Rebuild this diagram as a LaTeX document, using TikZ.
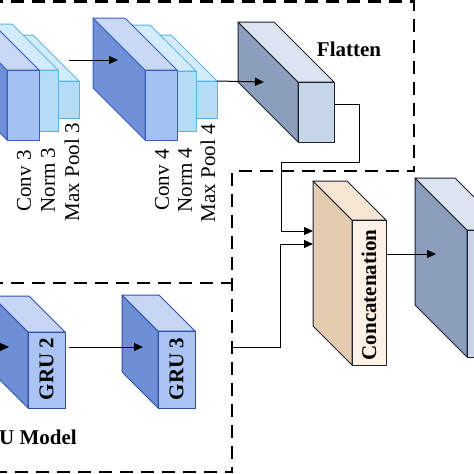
\documentclass[tikz,border=0pt]{standalone}
\usepackage{fontspec}
\setmainfont{Liberation Serif}
\usetikzlibrary{arrows.meta}
\definecolor{convF}{HTML}{A3C1F2}
\definecolor{convS}{HTML}{6F8FD6}
\definecolor{convT}{HTML}{C9D9F5}
\definecolor{convB}{HTML}{3A5FC0}
\definecolor{thinF}{HTML}{B3DDF6}
\definecolor{thinS}{HTML}{8CCBEF}
\definecolor{thinT}{HTML}{D4ECFA}
\definecolor{thinB}{HTML}{5CB4E4}
\definecolor{flatF}{HTML}{C7D5E8}
\definecolor{flatS}{HTML}{8B9FBC}
\definecolor{flatT}{HTML}{DCE4EF}
\definecolor{flatB}{HTML}{1E2230}
\definecolor{concF}{HTML}{FCF1E4}
\definecolor{concS}{HTML}{E5CBAF}
\definecolor{concT}{HTML}{F5E5D3}
\definecolor{concB}{HTML}{1E2230}
\definecolor{gruF}{HTML}{A9C3F2}
\definecolor{gruS}{HTML}{6E8ED6}
\definecolor{gruT}{HTML}{C6D6F4}
\definecolor{gruB}{HTML}{3050A8}
% #1 name, #2 x, #3 y (front top-left), #4 w, #5 h, #6 depth, #7 colour family
\newcommand{\blk}[7]{%
  \filldraw[draw=#7B, fill=#7S, line width=1pt, line join=round] (#2,#3) -- ++(-#6,-#6) -- ++(0,#5) -- ++(#6,#6) -- cycle;
  \filldraw[draw=#7B, fill=#7T, line width=1pt, line join=round] (#2,#3) -- ++(-#6,-#6) -- ++(#4,0) -- ++(#6,#6) -- cycle;
  \node[draw=#7B, fill=#7F, line width=1pt, minimum width=#4pt, minimum height=#5pt, anchor=north west, inner sep=0pt, outer sep=0pt] (#1) at (#2,#3) {};
}
\begin{document}
\begin{tikzpicture}[x=1pt,y=-1pt,
  arr/.style={-{Triangle[length=9pt,width=8pt]}, line width=1pt},
  dsh/.style={line width=2.8pt, dash pattern=on 13pt off 8pt},
  lbl/.style={rotate=90, font=\fontsize{21}{24}\selectfont, inner sep=0pt},
  blbl/.style={rotate=90, font=\bfseries\fontsize{21}{24}\selectfont, inner sep=0pt},
  ttl/.style={font=\bfseries\fontsize{21}{24}\selectfont, inner sep=0pt}]
\useasboundingbox (0,0) rectangle (474,474);
\clip (0,0) rectangle (474,474);

% dashed boxes
\draw[dsh] (-10,1.5) -- (414,1.5) -- (414,171) -- (232,171) -- (232,472) -- (-10,472);
\draw[dsh] (-10,283) -- (232,283);

% conv 3 group
\blk{pool3}{58}{81}{21}{37}{46}{thin}
\blk{norm3}{39}{70}{19}{61}{46}{thin}
\blk{conv3}{7}{70}{32}{70}{52}{conv}
% conv 4 group
\blk{pool4}{196}{81}{21}{37}{46}{thin}
\blk{norm4}{177}{71}{19}{60}{46}{thin}
\blk{conv4}{145}{70}{32}{70}{52}{conv}
\coordinate (c3out) at (69,60);
\coordinate (c4in) at (118,60);
\draw[arr] (c3out) -- (c4in);

% flatten
\blk{flat}{298}{82}{36}{60}{60}{flat}
\coordinate (flin) at (264,82);
\draw[arr] (pool4.north east) -- (flin);
\node[ttl] (tflat) at (349,49) {Flatten};

% concatenation
\blk{conc}{352}{220}{34}{145}{39}{conc}
\node[blbl] (tconc) at (369,295) {Concatenation};
\coordinate (cin1) at (313,231);
\coordinate (cin2) at (313,244);
\coordinate (fout) at (334,104);
\draw[arr] (fout) -- (359,104) -- (359,162) -- (281,162) -- (281,231) -- (cin1);
\coordinate (gout) at (232,347);
\draw[arr] (gout) -- (280,347) -- (280,244) -- (cin2);

% last block
\blk{last}{467}{230}{40}{127}{52}{flat}
\coordinate (cout) at (386,254);
\coordinate (lin) at (436,254);
\draw[arr] (cout) -- (lin);

% GRU blocks
\blk{gru2}{28}{332}{37}{76}{36}{gru}
\blk{gru3}{158}{331}{37}{77}{36}{gru}
\node[blbl] (tg2) at (46.5,369) {GRU 2};
\node[blbl] (tg3) at (176.5,369) {GRU 3};
\coordinate (g1out) at (-12,347);
\coordinate (g2in) at (9,347);
\draw[arr] (g1out) -- (g2in);
\coordinate (g2out) at (69,347);
\coordinate (g3in) at (143,347);
\draw[arr] (g2out) -- (g3in);
\node[ttl, anchor=west] (tmodel) at (-1,437) {U Model};

% labels
\node[lbl] (l1) at (24,181) {Conv 3};
\node[lbl] (l2) at (48,180) {Norm 3};
\node[lbl] (l3) at (72,172) {Max Pool 3};
\node[lbl] (l4) at (162,180) {Conv 4};
\node[lbl] (l5) at (185,180) {Norm 4};
\node[lbl] (l6) at (208,173) {Max Pool 4};
\end{tikzpicture}
\end{document}
